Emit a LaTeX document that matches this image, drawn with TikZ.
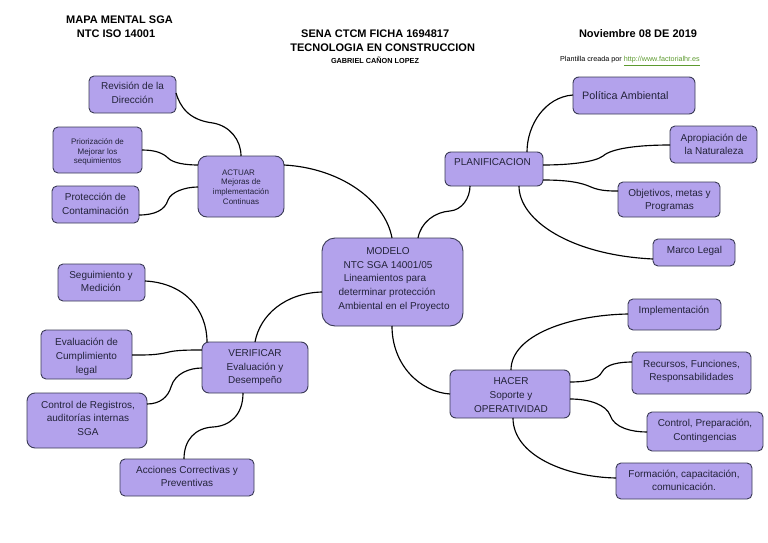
\documentclass[tikz,border=0pt]{standalone}
\usepackage{fontspec}
\setmainfont{Liberation Sans}
\usetikzlibrary{calc}
\definecolor{boxfill}{HTML}{B3A2EC}
\definecolor{boxline}{HTML}{3A3A55}
\definecolor{inktext}{HTML}{23233A}
\definecolor{linkgreen}{HTML}{5C9A2E}
\newcommand\shiftedbox[5]{\makebox[0pt]{\hspace*{#1pt}\hspace*{#1pt}\fontsize{#3}{#4}\selectfont\raisebox{\dimexpr #2pt-.25em-1.2pt\relax}[0pt][0pt]{\begin{tabular}{@{}c@{}}#5\end{tabular}}}}
\newcommand\tx[3]{\shiftedbox{#1}{#2}{10}{13.4}{#3}}
\newcommand\rpad[1]{\hspace*{#1pt}\mbox{}}
\tikzset{
  x=1pt,y=-1pt,
  mapbox/.style={draw=boxline,fill=boxfill,line width=0.9pt,rounded corners=5pt,anchor=north west,inner sep=0pt,outer sep=0pt,text=inktext},
  link/.style={draw=black,line width=1.15pt},
  titletext/.style={inner sep=0pt,outer sep=0pt,text=black}
}
\begin{document}
\begin{tikzpicture}
\useasboundingbox (0,0) rectangle (768,543);
% titles
\node[titletext] (t1) at (119.5,26.5) {\shiftedbox{0}{0}{11}{14}{\textbf{MAPA MENTAL SGA}\\\textbf{NTC ISO 14001}\rpad{7}}};
\node[titletext] (t2) at (382.7,40.7) {\shiftedbox{0}{0}{11}{14}{\textbf{SENA CTCM FICHA 1694817}\rpad{15}\\\textbf{TECNOLOGIA EN CONSTRUCCION}}};
\node[titletext] (t3) at (375,60) {\fontsize{7.3}{9}\selectfont\textbf{GABRIEL CAÑON LOPEZ}};
\node[titletext] (t4) at (638,34) {\fontsize{11}{14}\selectfont\textbf{Noviembre 08 DE 2019}};
\node[titletext] (t5) at (630,61) {\fontsize{7.2}{9}\selectfont Plantilla creada por \textcolor{linkgreen}{\underline{http://www.factorialhr.es}}};
% boxes
\node[mapbox,minimum width=87,minimum height=37] (rev) at (89,76) {\tx{0}{2}{Revisión de la\\Dirección}};
\node[mapbox,minimum width=89,minimum height=46] (pri) at (53,127) {\shiftedbox{0}{-1}{8}{9.6}{Priorización de\\Mejorar los\\sequimientos}};
\node[mapbox,minimum width=87,minimum height=37] (pro) at (52,186) {\shiftedbox{0}{1}{10}{14}{Protección de\\Contaminación}};
\node[mapbox,rounded corners=9pt,minimum width=86,minimum height=61] (act) at (198,156) {\shiftedbox{0}{0}{8}{9.6}{ACTUAR\rpad{5}\\Mejoras de\\implementación\\Continuas}};
\node[mapbox,rounded corners=13pt,minimum width=141,minimum height=88] (mod) at (322,238) {\shiftedbox{1.5}{4}{10}{13.6}{MODELO\rpad{12}\\NTC SGA 14001/05\rpad{12}\\Lineamientos para\rpad{18}\\determinar protección\rpad{14}\\Ambiental en el Proyecto}};
\node[mapbox,minimum width=87,minimum height=37] (seg) at (58,264) {\tx{-0.5}{1.5}{Seguimiento y\\Medición}};
\node[mapbox,minimum width=91,minimum height=49] (eva) at (41,330) {\shiftedbox{0}{-1}{10}{14}{Evaluación de\\Cumplimiento\\legal}};
\node[mapbox,rounded corners=8pt,minimum width=120,minimum height=55] (ctr) at (27,393) {\tx{1}{2.5}{Control de Registros,\\auditorías internas\\SGA}};
\node[mapbox,rounded corners=7pt,minimum width=106,minimum height=51] (ver) at (202,342) {\tx{0}{1}{VERIFICAR\\Evaluación y\\Desempeño}};
\node[mapbox,minimum width=134,minimum height=37] (acc) at (120,459) {\tx{0}{1.5}{Acciones Correctivas y\\Preventivas}};
\node[mapbox,rounded corners=6pt,minimum width=98,minimum height=34] (pln) at (445,152) {\tx{-1.5}{7}{PLANIFICACION}};
\node[mapbox,rounded corners=6pt,minimum width=122,minimum height=37] (pol) at (573,77) {\shiftedbox{-8.6}{0}{10.8}{13.4}{Política Ambiental}};
\node[mapbox,minimum width=87,minimum height=37] (apr) at (670,126) {\tx{0.5}{0.5}{Apropiación de\\la Naturaleza}};
\node[mapbox,minimum width=102,minimum height=35] (obj) at (618,182) {\tx{0.5}{0.5}{Objetivos, metas y\\Programas}};
\node[mapbox,minimum width=82,minimum height=27] (mar) at (653,239) {\tx{0.5}{3}{Marco Legal}};
\node[mapbox,minimum width=93,minimum height=31] (imp) at (628,299) {\tx{-0.5}{4.5}{Implementación}};
\node[mapbox,minimum width=119,minimum height=42] (rec) at (632,352) {\tx{0}{3}{Recursos, Funciones,\\Responsabilidades}};
\node[mapbox,minimum width=116,minimum height=39] (cpr) at (647,412) {\tx{0}{2}{Control, Preparación,\\Contingencias}};
\node[mapbox,minimum width=136,minimum height=36] (frm) at (616,463) {\tx{0}{1}{Formación, capacitación,\\comunicación.}};
\node[mapbox,rounded corners=6pt,minimum width=120,minimum height=48] (hac) at (450,370) {\shiftedbox{1}{0}{10}{14}{HACER\\Soporte y\\OPERATIVIDAD}};
% connectors
\draw[link] ($(rev.north west)+(87,17)$) .. controls (180,106) and (188,120) .. (213,123) .. controls (230,126) and (241,140) .. ($(act.north west)+(43,0)$);
\draw[link] ($(pri.north west)+(89,23)$) .. controls (155,150) and (163,153) .. (168,158) .. controls (173,163) and (185,165) .. ($(act.north west)+(0,9)$);
\draw[link] ($(pro.north west)+(87,29)$) .. controls (155,215) and (165,210) .. (168,200) .. controls (171,192) and (185,187) .. ($(act.north west)+(0,31)$);
\draw[link] ($(act.north west)+(86,9)$) .. controls (340,168) and (385,200) .. ($(mod.north west)+(70,0)$);
\draw[link] ($(mod.north west)+(96,0)$) .. controls (421,222) and (435,212) .. (450,211) .. controls (462,210) and (470,198) .. ($(pln.north west)+(25,34)$);
\draw[link] ($(pln.north west)+(82,0)$) .. controls (527,125) and (545,97) .. ($(pol.north west)+(0,18)$);
\draw[link] ($(pln.north west)+(98,13)$) .. controls (570,165) and (595,162) .. (603,156) .. controls (612,148) and (640,145) .. ($(apr.north west)+(0,19)$);
\draw[link] ($(pln.north west)+(98,28)$) .. controls (570,180) and (582,183) .. (591,187) .. controls (600,191) and (610,191) .. ($(obj.north west)+(0,9)$);
\draw[link] ($(pln.north west)+(74,34)$) .. controls (519,220) and (570,255) .. ($(mar.north west)+(0,20)$);
\draw[link] ($(mod.north west)+(0,54)$) .. controls (285,293) and (260,315) .. ($(ver.north west)+(53,0)$);
\draw[link] ($(seg.north west)+(87,17)$) .. controls (185,283) and (207,310) .. ($(ver.north west)+(5,0)$);
\draw[link] ($(eva.north west)+(91,25)$) .. controls (150,355) and (155,355) .. (167,352.5) .. controls (175,350) and (190,350) .. ($(ver.north west)+(0,8)$);
\draw[link] ($(ctr.north west)+(120,11)$) .. controls (160,404) and (168,397) .. (171,387) .. controls (175,373) and (190,368) .. ($(ver.north west)+(0,26)$);
\draw[link] ($(ver.north west)+(41,51)$) .. controls (243,415) and (230,426) .. (213,427) .. controls (195,428) and (184,440) .. ($(acc.north west)+(64,0)$);
\draw[link] ($(mod.north west)+(70,88)$) .. controls (392,365) and (420,392) .. ($(hac.north west)+(0,24)$);
\draw[link] ($(hac.north west)+(61,0)$) .. controls (511,335) and (570,315) .. ($(imp.north west)+(0,15)$);
\draw[link] ($(hac.north west)+(120,12)$) .. controls (585,382) and (598,380) .. (602,372) .. controls (606,364) and (620,362) .. ($(rec.north west)+(0,10)$);
\draw[link] ($(hac.north west)+(120,29)$) .. controls (590,399) and (606,405) .. (610,415) .. controls (614,428) and (632,432) .. ($(cpr.north west)+(0,20)$);
\draw[link] ($(hac.north west)+(63,48)$) .. controls (513,455) and (565,477) .. ($(frm.north west)+(0,15)$);
\end{tikzpicture}
\end{document}
